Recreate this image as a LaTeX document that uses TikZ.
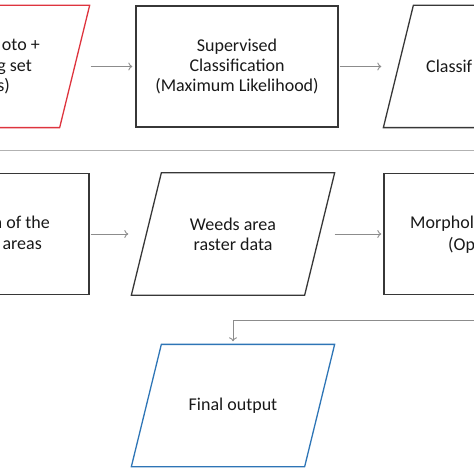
\documentclass[tikz,border=0pt]{standalone}
\usepackage{fontspec}
\setmainfont{Carlito}
\usetikzlibrary{arrows.meta}

\definecolor{boxgray}{RGB}{55,55,55}
\definecolor{inred}{RGB}{222,52,62}
\definecolor{outblue}{RGB}{46,117,182}
\definecolor{arrowgray}{RGB}{140,140,140}
\definecolor{rulegray}{RGB}{178,178,178}

\tikzset{
	stepbox/.style={draw=boxgray, line width=1.3bp, minimum width=202bp, minimum height=121bp,
		inner sep=0pt, align=center, font=\fontsize{18bp}{20bp}\selectfont, text=black!90},
	databox/.style={stepbox, draw=none},
	slant/.style={line width=1.3bp, line join=miter},
	cuttext/.style={inner sep=0pt, font=\fontsize{18bp}{20bp}\selectfont, text=black!90},
	flow/.style={draw=arrowgray, line width=0.9bp, -{To[length=4bp,width=8bp]}}
}

\begin{document}
\begin{tikzpicture}[x=1bp, y=-1bp]
		\useasboundingbox (0,0) rectangle (474,474);
		\clip (0,0) rectangle (474,474);

		% first row
		\node[databox] (photo) at (-12,66.5) {};
		\node[stepbox] (classify) at (237,66.5) {Supervised\\Classification\\(Maximum Likelihood)};
		\node[databox] (classified) at (485,66.5) {};

		\node[cuttext, anchor=base east] (photoa) at (40,51) {oto +};
		\node[cuttext, anchor=base east] (photob) at (32,72) {g set};
		\node[cuttext, anchor=base east] (photoc) at (10,92) {s)};
		\node[cuttext, anchor=base west] (classifieda) at (426,73) {Classif};

		\draw[rulegray, line width=1.8bp] (-10,150.5) -- (484,150.5);

		% second row
		\node[stepbox] (extract) at (-12,234) {};
		\node[databox] (weeds) at (233,234) {Weeds area\\raster data};
		\node[stepbox] (morph) at (485,234) {};

		\node[cuttext, anchor=base east] (extracta) at (50,229) {a of the};
		\node[cuttext, anchor=base east] (extractb) at (42,249) {areas};
		\node[cuttext, anchor=base west] (morpha) at (410,229) {Morphol};
		\node[cuttext, anchor=base west] (morphb) at (448,250) {(Op};

		% output
		\node[databox] (final) at (233,405.5) {Final output};

		% parallelograms for the data
		\foreach \n/\c in {photo/inred, classified/boxgray, weeds/boxgray, final/outblue}
			\draw[slant, \c] ([xshift=30bp]\n.north west) -- (\n.north east)
				-- ([xshift=-30bp]\n.south east) -- (\n.south west) -- cycle;

		\draw[flow, shorten <=1bp, shorten >=3bp] (photo.east) -- (classify.west);
		\draw[flow, shorten <=1bp, shorten >=2bp] (classify.east) -- (classified.west);
		\draw[flow, shorten <=1bp, shorten >=3bp] (extract.east) -- (weeds.west);
		\draw[flow, shorten >=2bp] (weeds.east) -- (morph.west);
		\draw[flow, shorten >=3bp] (morph.south) -- ++(0,25) -| (final.north);

	\end{tikzpicture}
\end{document}
